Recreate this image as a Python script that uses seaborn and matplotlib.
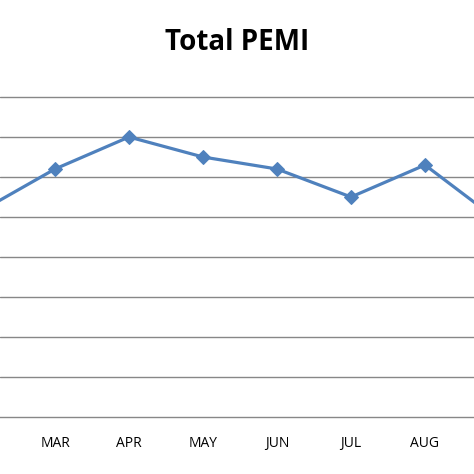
import matplotlib
matplotlib.use("Agg")
import matplotlib.pyplot as plt
import seaborn as sns
import pandas as pd

months = ["FEB", "MAR", "APR", "MAY", "JUN", "JUL", "AUG", "SEP"]
pemi = [5.15, 6.2, 7.0, 6.5, 6.2, 5.5, 6.3, 4.9]

df = pd.DataFrame({"idx": range(len(months)), "pemi": pemi})

sns.set_style("white")
plt.rcParams['font.family'] = ['Open Sans', 'DejaVu Sans']

fig = plt.figure(figsize=(4.74, 4.74), dpi=100)
ax = fig.add_axes([0, 57 / 474, 1, 417 / 474])

sns.lineplot(data=df, x="idx", y="pemi", ax=ax, color="#4F81BD", linewidth=2.3,
             marker="D", markersize=7, markeredgecolor="#4F81BD")

# only the months fully inside the crop get labels
ax.set_xticks(range(1, len(months) - 1))
ax.set_xticklabels(months[1:-1], fontsize=10, color="black")
ax.set_yticks(range(1, 9))
ax.set_xlim(1 - 55 / 74, 1 + (474 - 55) / 74)
ax.set_ylim(0, 417 / 40)
ax.yaxis.grid(True, color="#878787", linewidth=1)
ax.tick_params(axis="x", length=0, pad=14)
ax.tick_params(axis="y", left=False, labelleft=False)
ax.set_xlabel("")
ax.set_ylabel("")
for s in ["top", "left", "right"]:
    ax.spines[s].set_visible(False)
ax.spines["bottom"].set_color("#878787")
ax.spines["bottom"].set_linewidth(1)

fig.text(0.5, 1 - 43 / 474, "Total PEMI", ha="center", va="center",
         fontsize=20, fontweight="bold", color="black")

fig.savefig("out.png", dpi=100)
